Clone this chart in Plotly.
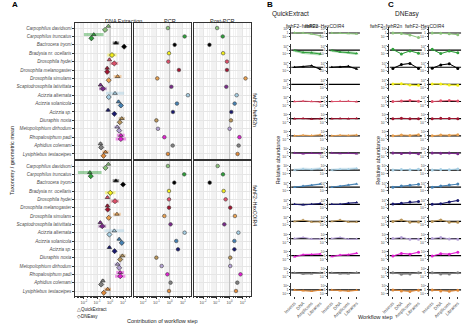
import plotly.graph_objects as go
import numpy as np

W, H = 474, 324
FONT = "Liberation Sans, Arial, sans-serif"

species = ["Carpophilus davidsoni", "Carpophilus truncatus", "Bactrocera tryoni",
           "Bradysia nr. ocellaris", "Drosophila hydei", "Drosophila melanogaster",
           "Drosophila simulans", "Scaptodrosophila lativittata", "Acizzia alternata",
           "Acizzia solanicola", "Acizzia sp.", "Diuraphis noxia", "Metopolophium dirhodum",
           "Rhopalosiphum padi", "Aphidius colemani", "Lysiphlebus testaceipes"]
colors = ["#8cc47c", "#2e9e3a", "#000000", "#f2ee1a", "#e0506a", "#a01530", "#e8a050",
          "#7a2a8a", "#a6cee3", "#4682b4", "#1a1a6e", "#b8955a", "#b4a0d4", "#e020d0",
          "#808080", "#e08a3a"]

# ---- Panel A: log10 contribution of workflow step ----
dna_qe_top = [-0.13, -1.25, 0.45, None, -0.05, -0.22, 0.58, -0.73, 0.38, 0.65, -0.15, 0.90, 0.55, 0.83, -0.73, -0.35]
dna_dn_top = [-0.38, -1.43, 1.08, 0.15, 0.33, -0.22, -0.10, -0.55, -0.10, 0.83, 0.33, 0.75, 0.70, 0.83, -0.68, -0.50]
dna_qe_bot = [-0.13, -1.55, 0.45, None, -0.20, -0.20, 0.53, -0.75, 0.33, 0.70, -0.05, 0.95, 0.58, 0.78, -0.55, -0.18]
dna_dn_bot = [-0.35, -1.48, 1.00, 0.02, 0.38, -0.18, -0.10, -0.60, -0.05, 0.90, 0.35, 0.78, 0.70, 0.78, -0.68, -0.48]
dna_qe_err_top = [0.05, 0.75, 0.25, 0.0, 0.10, 0.10, 0.30, 0.10, 0.70, 0.10, 0.10, 0.25, 0.25, 0.30, 0.15, 0.25]
dna_dn_err_top = [0.05, 0.10, 0.10, 0.35, 0.30, 0.10, 0.10, 0.30, 0.15, 0.10, 0.10, 0.10, 0.10, 0.40, 0.15, 0.10]
dna_qe_err_bot = [0.05, 0.90, 0.25, 0.0, 0.10, 0.10, 0.30, 0.10, 0.75, 0.10, 0.10, 0.25, 0.25, 0.30, 0.15, 0.25]
dna_dn_err_bot = [0.05, 0.10, 0.10, 0.40, 0.30, 0.10, 0.10, 0.30, 0.15, 0.10, 0.10, 0.10, 0.10, 0.40, 0.15, 0.10]
pcr_top = [-0.13, 1.13, 0.38, -0.05, -0.10, 0.70, -0.93, 0.13, 1.38, 0.55, 0.25, -1.00, -0.88, -0.40, 0.23, -0.13]
pcr_bot = [-0.13, 1.10, 0.35, -0.05, -0.05, -0.05, -0.40, 0.07, 1.13, 0.50, 0.63, -1.00, -0.60, -0.17, 0.07, -0.05]
post_top = [-0.94, -0.52, -1.52, -0.49, -0.20, -0.20, 1.20, -0.25, 0.53, 0.38, 0.13, 0.10, 0.00, 0.74, 0.68, 0.60]
post_bot = [-0.90, -0.50, -1.50, -0.45, -0.30, 0.05, 0.40, -0.40, 0.66, 0.36, 0.36, 0.05, 0.05, 0.82, 0.58, 0.48]
facets = ["DNA Extraction", "PCR", "Post-PCR"]
primers = ["fwhF2−fwhR2n", "fwhF2−HexCOIR4"]
a_ticks = [-2, -1, 0, 1]
a_ticktext = ["10<sup>-2</sup>", "10<sup>-1</sup>", "10<sup>0</sup>", "10<sup>1</sup>"]

# ---- Panels B/C: log10 relative abundance per workflow step ----
steps = ["Insects", "DNA", "Amplicons", "Libraries"]
qe_r2n = [[0.1, 0.0, -0.5, -1.4], [-0.2, -1.2, -1.4, -2.0], [0.0, 0.3, 0.8, -1.0], [None, None, None, None],
          [0.0, 0.2, 0.0, -0.2], [0.0, 0.1, -0.2, 0.0], [0.0, 0.3, 0.1, 0.5], [0.0, -0.4, -0.2, -0.3],
          [0.0, 0.5, 0.3, 0.7], [0.0, 0.6, 1.0, 1.6], [0.0, -0.3, 0.0, 0.4], [0.0, 0.7, -0.3, -0.2],
          [0.0, 0.6, -0.2, -0.2], [-0.5, 0.5, 0.6, 0.9], [0.0, -0.6, -0.5, 0.1], [0.0, -0.4, -0.7, -0.1]]
qe_coir4 = [[0.0, -0.1, -0.2, -0.5], [-0.2, -1.0, -1.3, -1.8], [0.0, 0.2, 0.5, -0.9], [None, None, None, None],
            [0.0, 0.1, 0.1, -0.1], [0.0, 0.1, -0.1, 0.1], [0.0, 0.3, 0.2, 0.4], [0.0, -0.3, -0.2, -0.4],
            [0.0, 0.4, 0.4, 0.8], [0.0, 0.5, 1.1, 1.7], [0.0, 0.0, 0.6, 0.9], [0.0, 0.7, -0.3, -0.3],
            [0.0, 0.6, -0.3, -0.2], [-0.4, 0.3, 0.5, 1.3], [0.0, -0.5, -0.5, 0.2], [0.0, -0.4, -0.6, -0.2]]
dn_r2n = [[0.0, -0.3, -1.0, -2.4], [0.4, -2.0, -0.4, -1.6], [-0.6, 1.4, 2.0, -0.7], [0.2, 0.3, -0.3, -0.5],
          [0.0, 0.3, 0.5, 0.2], [0.0, 0.2, 0.0, -0.1], [0.0, 0.4, 0.2, 0.6], [0.0, -0.3, -0.1, -0.5],
          [0.0, 0.3, 0.1, 0.4], [0.0, 0.6, 1.0, 1.5], [0.1, 0.6, 1.2, 1.4], [0.0, 0.8, -0.4, -0.3],
          [0.0, 0.6, -0.3, -0.3], [-0.2, 1.2, 0.8, 1.8], [0.0, -0.7, -0.6, 0.1], [0.0, -0.5, -0.8, -0.1]]
dn_coir4 = [[0.0, -0.1, -0.4, -0.9], [0.4, -1.8, -0.5, -1.4], [-0.5, 1.2, 1.8, -0.6], [0.2, 0.2, -0.3, -0.4],
            [0.0, 0.4, 0.5, 0.3], [0.0, 0.2, 0.1, 0.0], [0.0, 0.4, 0.3, 0.5], [0.0, -0.2, -0.1, -0.4],
            [0.0, 0.3, 0.2, 0.5], [0.0, 0.6, 1.1, 1.6], [0.0, 0.3, 1.2, 2.0], [0.0, 0.8, -0.4, -0.4],
            [0.0, 0.6, -0.2, -0.3], [-0.2, 1.0, 0.8, 1.8], [0.0, -0.6, -0.6, 0.1], [0.0, -0.5, -0.7, -0.2]]
qe_band = [0.2, 0.8, 0.3, 0.0, 0.2, 0.2, 0.3, 0.3, 0.8, 0.4, 0.3, 0.3, 0.3, 0.5, 0.3, 0.3]
dn_band = [0.1, 0.2, 0.2, 0.5, 0.2, 0.2, 0.2, 0.2, 0.3, 0.2, 0.2, 0.2, 0.2, 0.3, 0.2, 0.2]
mini_ticks = [-2, 0, 2]
mini_ticktext = ["10<sup>-2</sup>", "1", "10<sup>2</sup>"]


def hx(p):
    return p / W


def vy(p):
    return 1 - p / H


def rgba(hexc, a):
    h = hexc.lstrip("#")
    r, g, b = int(h[0:2], 16), int(h[2:4], 16), int(h[4:6], 16)
    return f"rgba({r},{g},{b},{a})"


layout = dict(width=W, height=H, margin=dict(l=0, r=0, t=0, b=0), paper_bgcolor="white",
              plot_bgcolor="rgba(0,0,0,0)", showlegend=False,
              font=dict(family=FONT, size=5, color="#4d4d4d"))
traces, annotations = [], []
counter = [0]


def new_axes(xdom, ydom, xcfg, ycfg):
    counter[0] += 1
    n = counter[0]
    s = "" if n == 1 else str(n)
    layout["xaxis" + s] = dict(domain=xdom, anchor="y" + s, **xcfg)
    layout["yaxis" + s] = dict(domain=ydom, anchor="x" + s, **ycfg)
    return "x" + s, "y" + s


minor_vals = [float(np.log10(m * 10.0 ** d)) for d in range(-3, 2) for m in range(2, 10)]
minor_vals = [v for v in minor_vals if -2.7 < v < 1.6]

facet_x = [(68, 125), (128, 186), (189, 247)]
row_y = [(23, 159), (161, 296)]
a_data = [
    dict(qe=dna_qe_top, dn=dna_dn_top, qe_err=dna_qe_err_top, dn_err=dna_dn_err_top, pcr=pcr_top, post=post_top),
    dict(qe=dna_qe_bot, dn=dna_dn_bot, qe_err=dna_qe_err_bot, dn_err=dna_dn_err_bot, pcr=pcr_bot, post=post_bot),
]
ypos = list(range(1, len(species) + 1))

for r, (yt, yb) in enumerate(row_y):
    for c, (xl, xr) in enumerate(facet_x):
        bottom = (r == 1)
        xcfg = dict(range=[-2.7, 1.6], tickvals=a_ticks, ticktext=a_ticktext, showticklabels=bottom,
                    ticks="outside" if bottom else "", ticklen=2, tickwidth=0.6, tickcolor="#333333",
                    tickfont=dict(size=4, color="#4d4d4d"),
                    showgrid=True, gridcolor="#e6e6e6", gridwidth=0.6, zeroline=False,
                    showline=True, mirror=True, linecolor="#333333", linewidth=1,
                    minor=dict(tickvals=minor_vals, ticks="outside" if bottom else "", ticklen=1.2,
                               tickcolor="#333333", tickwidth=0.5, showgrid=True,
                               gridcolor="#f2f2f2", gridwidth=0.4))
        ycfg = dict(range=[16.6, 0.4], tickvals=ypos, ticktext=[f"<i>{s}</i>" for s in species],
                    showticklabels=(c == 0), ticks="outside" if c == 0 else "", ticklen=1.5,
                    tickwidth=0.6, tickcolor="#333333",
                    tickfont=dict(size=4.6, color="#4d4d4d"),
                    showgrid=True, gridcolor="#e6e6e6", gridwidth=0.6, zeroline=False,
                    showline=True, mirror=True, linecolor="#333333", linewidth=1)
        xa, ya = new_axes([hx(xl), hx(xr)], [vy(yb), vy(yt)], xcfg, ycfg)
        # reference line at 10^0
        traces.append(go.Scatter(x=[0, 0], y=[0.4, 16.6], mode="lines", xaxis=xa, yaxis=ya,
                                 line=dict(color="#c4c4c4", width=1.2), hoverinfo="skip"))
        d = a_data[r]
        if c == 0:
            for i in range(len(species)):
                if d["qe"][i] is not None:
                    traces.append(go.Scatter(
                        x=[d["qe"][i]], y=[ypos[i] - 0.22], mode="markers", xaxis=xa, yaxis=ya,
                        error_x=dict(type="data", array=[d["qe_err"][i]], color=rgba(colors[i], 0.45),
                                     thickness=3, width=0),
                        marker=dict(symbol="triangle-up", size=4, color=colors[i],
                                    line=dict(color="#262626", width=0.6))))
                traces.append(go.Scatter(
                    x=[d["dn"][i]], y=[ypos[i] + 0.22], mode="markers", xaxis=xa, yaxis=ya,
                    error_x=dict(type="data", array=[d["dn_err"][i]], color=rgba(colors[i], 0.45),
                                 thickness=3, width=0),
                    marker=dict(symbol="diamond", size=4, color=colors[i],
                                line=dict(color="#262626", width=0.6))))
        else:
            vals = d["pcr"] if c == 1 else d["post"]
            traces.append(go.Scatter(x=vals, y=ypos, mode="markers", xaxis=xa, yaxis=ya,
                                     marker=dict(symbol="circle", size=3.6, color=colors,
                                                 line=dict(color="#444444", width=0.6))))
    annotations.append(dict(text=primers[r], x=hx(251), y=vy((yt + yb) / 2), xref="paper", yref="paper",
                            textangle=90, showarrow=False, font=dict(size=5, color="#1a1a1a")))

for c, (xl, xr) in enumerate(facet_x):
    annotations.append(dict(text=facets[c], x=hx((xl + xr) / 2), y=vy(16), xref="paper", yref="paper",
                            showarrow=False, font=dict(size=5.5, color="#1a1a1a")))

# ---- Panels B / C ----
mini_cols = {"QE": [(288, 321), (326, 358)], "DN": [(388, 421), (428, 461)]}
mini_data = {"QE": [qe_r2n, qe_coir4], "DN": [dn_r2n, dn_coir4]}
bands = {"QE": qe_band, "DN": dn_band}
symbols = {"QE": "triangle-up", "DN": "circle"}
n_sp = len(species)
for key in ["QE", "DN"]:
    for c, (xl, xr) in enumerate(mini_cols[key]):
        for i in range(n_sp):
            yc = 33 + 17.13 * i
            last = (i == n_sp - 1)
            xcfg = dict(range=[0.6, 4.4], tickvals=[1, 2, 3, 4], ticktext=steps, showticklabels=last,
                        ticks="outside" if last else "", ticklen=1.5, tickwidth=0.5, tickcolor="#333333",
                        tickangle=-45, tickfont=dict(size=4.5, color="#4d4d4d"),
                        showgrid=False, zeroline=False, showline=False)
            ycfg = dict(range=[-3.4, 3.4], tickvals=mini_ticks, ticktext=mini_ticktext,
                        ticks="outside", ticklen=1.2, tickwidth=0.5, tickcolor="#333333",
                        tickfont=dict(size=3.5, color="#4d4d4d"),
                        showgrid=False, zeroline=False, showline=True, linecolor="#333333", linewidth=0.6)
            xa, ya = new_axes([hx(xl), hx(xr)], [vy(yc + 6.5), vy(yc - 6.5)], xcfg, ycfg)
            vals = mini_data[key][c][i]
            if vals[0] is not None:
                hw = bands[key][i]
                upper = [v + hw for v in vals]
                lower = [v - hw for v in vals]
                traces.append(go.Scatter(x=[1, 2, 3, 4, 4, 3, 2, 1], y=upper + lower[::-1], mode="lines",
                                         fill="toself", fillcolor=rgba(colors[i], 0.35), line=dict(width=0),
                                         xaxis=xa, yaxis=ya, hoverinfo="skip"))
            # baseline at relative abundance 1
            traces.append(go.Scatter(x=[0.6, 4.4], y=[0, 0], mode="lines", xaxis=xa, yaxis=ya,
                                     line=dict(color="#000000", width=1.2), hoverinfo="skip"))
            if vals[0] is not None:
                traces.append(go.Scatter(x=[1, 2, 3, 4], y=vals, mode="lines+markers", xaxis=xa, yaxis=ya,
                                         line=dict(color=colors[i], width=1),
                                         marker=dict(symbol=symbols[key], size=3, color=colors[i])))

# column headers
for text, px in [(primers[0], 299), (primers[1], 344), (primers[0], 403), (primers[1], 446)]:
    annotations.append(dict(text=text, x=hx(px), y=vy(22), xref="paper", yref="paper",
                            showarrow=False, font=dict(size=4.8, color="#1a1a1a")))


def label(text, px, py, size, angle=0, xanchor="center", color="#1a1a1a", bold=False):
    annotations.append(dict(text=f"<b>{text}</b>" if bold else text, x=hx(px), y=vy(py),
                            xref="paper", yref="paper", showarrow=False, textangle=angle,
                            xanchor=xanchor, yanchor="middle", font=dict(size=size, color=color)))


label("A", 2, 5, 8, xanchor="left", bold=True, color="#000000")
label("B", 261, 5, 8, xanchor="left", bold=True, color="#000000")
label("C", 384, 5, 8, xanchor="left", bold=True, color="#000000")
label("QuickExtract", 267, 14, 6.5, xanchor="left")
label("DNEasy", 392, 14, 6.5, xanchor="left")
label("Taxonomy / geometric mean", 4, 160, 5.5, angle=-90)
label("Contribution of workflow step", 157, 321, 5.5)
label("Relative abundance", 275, 160, 5.5, angle=-90)
label("Relative abundance", 376, 160, 5.5, angle=-90)
label("Workflow step", 373, 317, 5.5)
label("△QuickExtract", 68, 309, 4.5, xanchor="left")
label("◇DNEasy", 68, 316, 4.5, xanchor="left")

layout["annotations"] = annotations
fig = go.Figure(data=traces, layout=layout)
fig.write_html("out.html")
